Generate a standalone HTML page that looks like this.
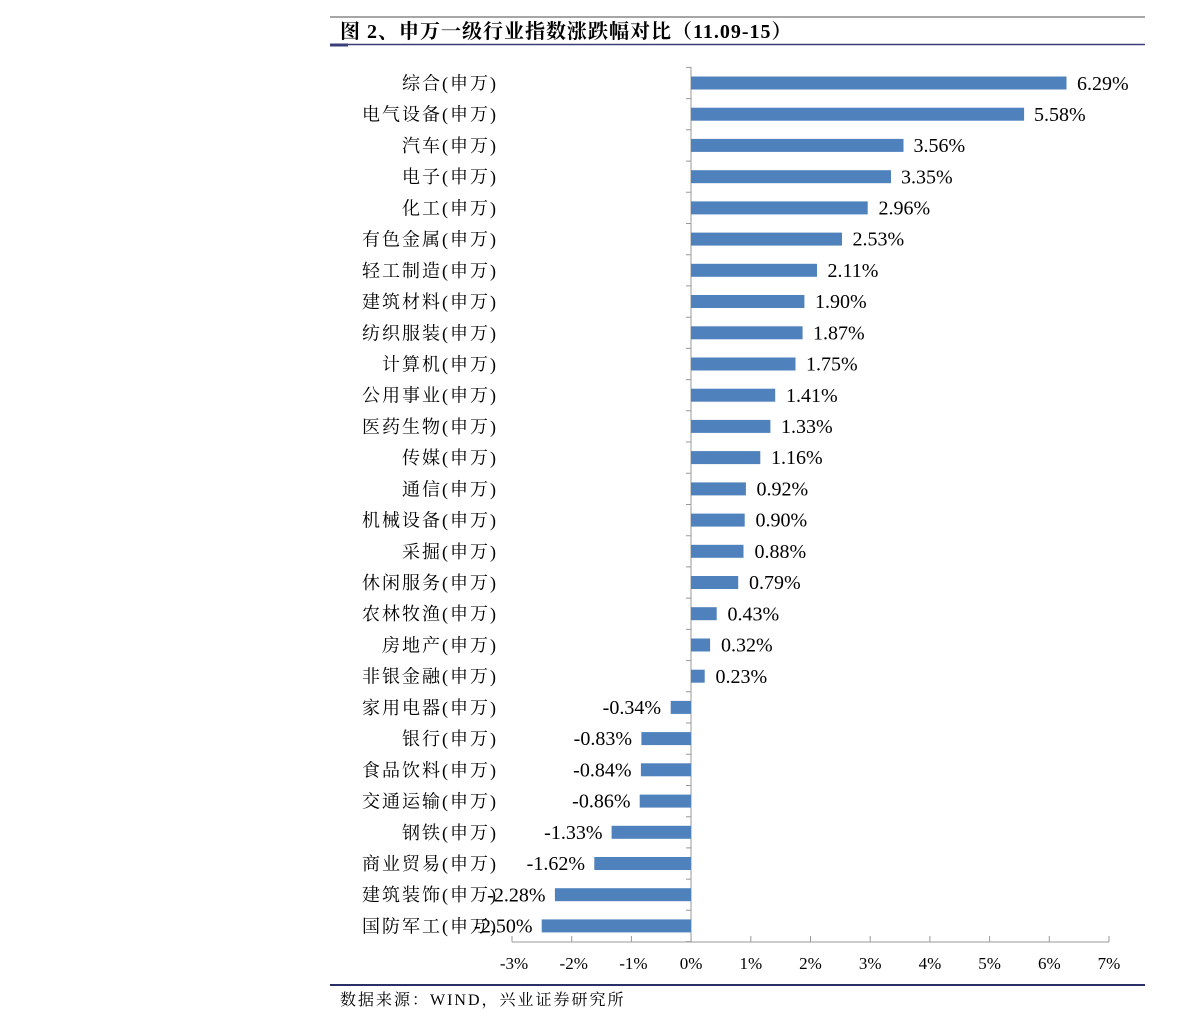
<!DOCTYPE html>
<html><head><meta charset="utf-8"><style>body{margin:0;background:#fff}svg{display:block}</style></head><body>
<svg width="1191" height="1030" xmlns="http://www.w3.org/2000/svg" font-family="'Liberation Serif','Noto Serif CJK SC',serif">
<line x1="330" y1="17" x2="1145" y2="17" stroke="#888" stroke-width="1.5"/>
<text x="340" y="38" font-size="20" font-weight="bold" letter-spacing="1" fill="#000">图 2、申万一级行业指数涨跌幅对比（11.09-15）</text>
<line x1="330" y1="44.5" x2="1145" y2="44.5" stroke="#3a3f7a" stroke-width="1.5"/>
<line x1="330" y1="45" x2="348" y2="45" stroke="#3a3f7a" stroke-width="3"/>

<g stroke="#999" stroke-width="1">
<line x1="691" y1="67" x2="691" y2="942"/>
<line x1="512" y1="942" x2="1109" y2="942"/>
<path d="M512 936V942M571.7 936V942M631.4 936V942M691.1 936V942M750.8 936V942M810.5 936V942M870.2 936V942M929.9 936V942M989.6 936V942M1049.3 936V942M1109 936V942"/>
<path d="M686 67.4H691M686 98.6H691M686 129.8H691M686 161.1H691M686 192.3H691M686 223.5H691M686 254.7H691M686 285.9H691M686 317.2H691M686 348.4H691M686 379.6H691M686 410.8H691M686 442H691M686 473.3H691M686 504.5H691M686 535.7H691M686 566.9H691M686 598.1H691M686 629.4H691M686 660.6H691M686 691.8H691M686 723H691M686 754.2H691M686 785.5H691M686 816.7H691M686 847.9H691M686 879.1H691M686 910.3H691M686 941.6H691"/>
</g>

<g font-size="17" text-anchor="middle" fill="#000">
<text x="514" y="969">-3%</text><text x="573.7" y="969">-2%</text><text x="633.4" y="969">-1%</text><text x="691.1" y="969">0%</text><text x="750.8" y="969">1%</text><text x="810.5" y="969">2%</text><text x="870.2" y="969">3%</text><text x="929.9" y="969">4%</text><text x="989.6" y="969">5%</text><text x="1049.3" y="969">6%</text><text x="1109" y="969">7%</text>
</g>

<g fill="#4F81BD">
<rect x="691" y="76.5" width="375.5" height="13"/>
<rect x="691" y="107.7" width="333.1" height="13"/>
<rect x="691" y="138.9" width="212.5" height="13"/>
<rect x="691" y="170.2" width="200" height="13"/>
<rect x="691" y="201.4" width="176.7" height="13"/>
<rect x="691" y="232.6" width="151" height="13"/>
<rect x="691" y="263.8" width="126" height="13"/>
<rect x="691" y="295" width="113.4" height="13"/>
<rect x="691" y="326.3" width="111.6" height="13"/>
<rect x="691" y="357.5" width="104.5" height="13"/>
<rect x="691" y="388.7" width="84.2" height="13"/>
<rect x="691" y="419.9" width="79.4" height="13"/>
<rect x="691" y="451.1" width="69.3" height="13"/>
<rect x="691" y="482.4" width="54.9" height="13"/>
<rect x="691" y="513.6" width="53.7" height="13"/>
<rect x="691" y="544.8" width="52.5" height="13"/>
<rect x="691" y="576" width="47.2" height="13"/>
<rect x="691" y="607.2" width="25.7" height="13"/>
<rect x="691" y="638.5" width="19.1" height="13"/>
<rect x="691" y="669.7" width="13.7" height="13"/>
<rect x="670.7" y="700.9" width="20.3" height="13"/>
<rect x="641.4" y="732.1" width="49.6" height="13"/>
<rect x="640.9" y="763.3" width="50.1" height="13"/>
<rect x="639.7" y="794.6" width="51.3" height="13"/>
<rect x="611.6" y="825.8" width="79.4" height="13"/>
<rect x="594.3" y="857" width="96.7" height="13"/>
<rect x="554.9" y="888.2" width="136.1" height="13"/>
<rect x="541.7" y="919.4" width="149.3" height="13"/>
</g>

<g font-size="18" letter-spacing="2" text-anchor="end" fill="#000">
<text x="498" y="89.5">综合(申万)</text>
<text x="498" y="120.7">电气设备(申万)</text>
<text x="498" y="151.9">汽车(申万)</text>
<text x="498" y="183.2">电子(申万)</text>
<text x="498" y="214.4">化工(申万)</text>
<text x="498" y="245.6">有色金属(申万)</text>
<text x="498" y="276.8">轻工制造(申万)</text>
<text x="498" y="308">建筑材料(申万)</text>
<text x="498" y="339.3">纺织服装(申万)</text>
<text x="498" y="370.5">计算机(申万)</text>
<text x="498" y="401.7">公用事业(申万)</text>
<text x="498" y="432.9">医药生物(申万)</text>
<text x="498" y="464.1">传媒(申万)</text>
<text x="498" y="495.4">通信(申万)</text>
<text x="498" y="526.6">机械设备(申万)</text>
<text x="498" y="557.8">采掘(申万)</text>
<text x="498" y="589">休闲服务(申万)</text>
<text x="498" y="620.2">农林牧渔(申万)</text>
<text x="498" y="651.5">房地产(申万)</text>
<text x="498" y="682.7">非银金融(申万)</text>
<text x="498" y="713.9">家用电器(申万)</text>
<text x="498" y="745.1">银行(申万)</text>
<text x="498" y="776.3">食品饮料(申万)</text>
<text x="498" y="807.6">交通运输(申万)</text>
<text x="498" y="838.8">钢铁(申万)</text>
<text x="498" y="870">商业贸易(申万)</text>
<text x="498" y="901.2">建筑装饰(申万)</text>
<text x="498" y="932.4">国防军工(申万)</text>
</g>
<g font-size="20" text-anchor="end" fill="#000">
<text x="661" y="714">-0.34%</text>
<text x="632" y="745">-0.83%</text>
<text x="631.5" y="776.5">-0.84%</text>
<text x="630.5" y="807.7">-0.86%</text>
<text x="602.5" y="839">-1.33%</text>
<text x="585" y="870">-1.62%</text>
<text x="545.5" y="901.3">-2.28%</text>
<text x="532.5" y="932.5">-2.50%</text>
</g>

<g font-size="20" fill="#000">
<text x="1077" y="90">6.29%</text>
<text x="1034" y="121">5.58%</text>
<text x="913.5" y="152">3.56%</text>
<text x="901" y="183.3">3.35%</text>
<text x="878.5" y="214.5">2.96%</text>
<text x="852.5" y="245.7">2.53%</text>
<text x="827.5" y="277">2.11%</text>
<text x="815" y="308.2">1.90%</text>
<text x="813" y="339.4">1.87%</text>
<text x="806" y="370.6">1.75%</text>
<text x="786" y="401.8">1.41%</text>
<text x="781" y="433">1.33%</text>
<text x="771" y="464.2">1.16%</text>
<text x="756.5" y="495.5">0.92%</text>
<text x="755.5" y="526.7">0.90%</text>
<text x="754.5" y="558">0.88%</text>
<text x="749" y="589.2">0.79%</text>
<text x="727.5" y="620.4">0.43%</text>
<text x="721" y="651.6">0.32%</text>
<text x="715.5" y="682.8">0.23%</text>
</g>

<line x1="330" y1="985" x2="1145" y2="985" stroke="#2a2f6a" stroke-width="2"/>
<text x="340" y="1005" font-size="16" letter-spacing="2" fill="#000">数据来源：WIND，兴业证券研究所</text>
</svg>
</body></html>
